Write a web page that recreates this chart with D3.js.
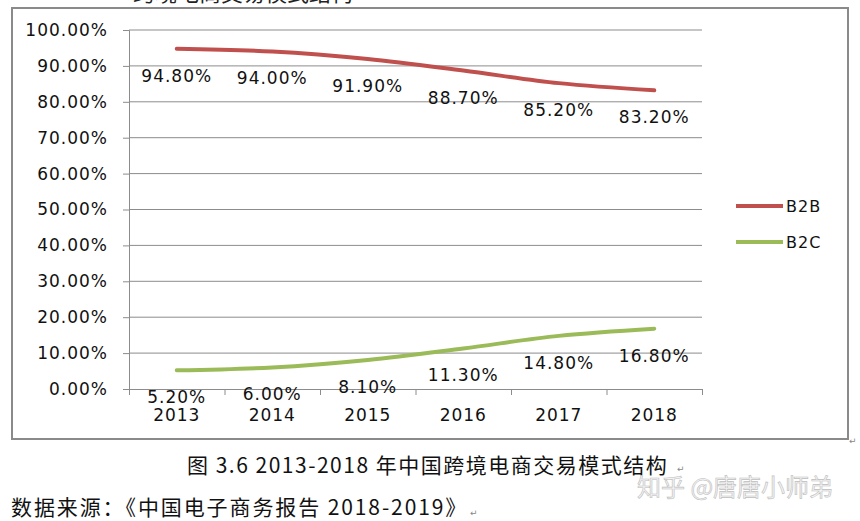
<!DOCTYPE html>
<html>
<head>
<meta charset="utf-8">
<script src="https://cdn.jsdelivr.net/npm/d3@7"></script>
<style>
  body { margin: 0; background: #fff; }
  svg { display: block; }
</style>
</head>
<body>
<div id="chart"></div>
<script>
"use strict";

var years = ["2013", "2014", "2015", "2016", "2017", "2018"];
var seriesNames = ["B2B", "B2C"];
var b2bValues = [0.948, 0.940, 0.919, 0.887, 0.852, 0.832];
var b2cValues = [0.052, 0.060, 0.081, 0.113, 0.148, 0.168];
var seriesColors = ["#c0504d", "#9bbb59"];
var yTicks = [0, 0.1, 0.2, 0.3, 0.4, 0.5, 0.6, 0.7, 0.8, 0.9, 1.0];

var series = [
    { name: seriesNames[0], values: b2bValues, color: seriesColors[0] },
    { name: seriesNames[1], values: b2cValues, color: seriesColors[1] }
];

var width = 860, height = 521;
var margin = { top: 30, left: 129, right: 158, bottom: 132 };
var plotW = width - margin.left - margin.right;
var plotH = height - margin.top - margin.bottom;
var font = "'DejaVu Sans', Verdana, sans-serif";
var cjk = "'Noto Sans CJK SC', sans-serif";

var svg = d3.select("#chart").append("svg")
    .attr("width", width)
    .attr("height", height);

svg.append("rect").attr("width", width).attr("height", height).attr("fill", "#fff");

// title cut off at the top of the picture
svg.append("text")
    .attr("x", 133).attr("y", 1)
    .style("font-family", cjk).style("font-size", "22px")
    .style("fill", "#222")
    .text("跨境电商交易模式结构");

// outer chart border
svg.append("rect")
    .attr("x", 12).attr("y", 8)
    .attr("width", 836).attr("height", 431)
    .attr("fill", "none")
    .attr("stroke", "#8a8a8a")
    .attr("stroke-width", 2);

var g = svg.append("g")
    .attr("transform", "translate(" + margin.left + "," + margin.top + ")");

var x = d3.scaleBand().domain(years).range([0, plotW]).padding(0);
var xEdge = d3.scaleLinear().domain([0, years.length]).range([0, plotW]);
var y = d3.scaleLinear().domain([0, 1]).range([plotH, 0]);

// gridlines
g.append("g").selectAll("line")
    .data(yTicks.slice(1))
    .enter().append("line")
    .attr("x1", 0).attr("x2", plotW)
    .attr("y1", function (d) { return y(d); })
    .attr("y2", function (d) { return y(d); })
    .attr("stroke", "#8c8c8c").attr("stroke-width", 1);

// y axis
var yAxis = g.append("g")
    .call(d3.axisLeft(y).tickValues(yTicks).tickFormat(d3.format(".2%")).tickSize(6).tickPadding(15));
yAxis.select(".domain").attr("stroke", "#8c8c8c");
yAxis.selectAll(".tick line").attr("stroke", "#8c8c8c");
yAxis.selectAll("text")
    .style("font-family", font).style("font-size", "17px")
    .style("letter-spacing", "1px")
    .attr("fill", "#111");

// x axis ticks at category edges
var xTicks = g.append("g")
    .attr("transform", "translate(0," + plotH + ")")
    .call(d3.axisBottom(xEdge).ticks(years.length).tickFormat("").tickSize(6).tickSizeOuter(6));
xTicks.select(".domain").attr("stroke", "#8c8c8c");
xTicks.selectAll(".tick line").attr("stroke", "#8c8c8c");

// x labels
var xLabels = g.append("g")
    .attr("transform", "translate(0," + plotH + ")")
    .call(d3.axisBottom(x).tickSize(0).tickPadding(20));
xLabels.select(".domain").remove();
xLabels.selectAll("text")
    .style("font-family", font).style("font-size", "17px")
    .style("letter-spacing", "1px")
    .attr("fill", "#111");

var line = d3.line()
    .x(function (d, i) { return x(years[i]) + x.bandwidth() / 2; })
    .y(function (d) { return y(d); })
    .curve(d3.curveCatmullRom.alpha(0.5));

series.forEach(function (s) {
    g.append("path")
        .datum(s.values)
        .attr("d", line)
        .attr("fill", "none")
        .attr("stroke", s.color)
        .attr("stroke-width", 4)
        .attr("stroke-linecap", "round");

    g.append("g").selectAll("text")
        .data(s.values)
        .enter().append("text")
        .attr("x", function (d, i) { return x(years[i]) + x.bandwidth() / 2; })
        .attr("y", function (d) { return y(d) + 27; })
        .attr("dy", "0.35em")
        .attr("text-anchor", "middle")
        .style("font-family", font).style("font-size", "17px")
        .style("letter-spacing", "1px")
        .attr("fill", "#111")
        .text(function (d) { return d3.format(".2%")(d); });
});

// legend
var legend = svg.append("g").attr("transform", "translate(736,206)");
var item = legend.selectAll("g")
    .data(series)
    .enter().append("g")
    .attr("transform", function (d, i) { return "translate(0," + i * 36 + ")"; });
item.append("line")
    .attr("x1", 0).attr("x2", 47)
    .attr("stroke", function (d) { return d.color; })
    .attr("stroke-width", 4);
item.append("text")
    .attr("x", 50).attr("dy", "0.36em")
    .style("font-family", font).style("font-size", "16px")
    .style("letter-spacing", "1px")
    .attr("fill", "#111")
    .text(function (d) { return d.name; });

// small paragraph marks
svg.append("text")
    .attr("x", 849).attr("y", 444)
    .style("font-family", font).style("font-size", "9px")
    .attr("fill", "#888").text("↵");

// caption
svg.append("text")
    .attr("x", 187).attr("y", 473)
    .style("font-family", cjk).style("font-size", "21px")
    .style("letter-spacing", "1.5px")
    .attr("fill", "#111")
    .text("图 3.6 2013-2018 年中国跨境电商交易模式结构");
svg.append("text")
    .attr("x", 677).attr("y", 472)
    .style("font-family", font).style("font-size", "9px")
    .attr("fill", "#888").text("↵");

// source
svg.append("text")
    .attr("x", 11).attr("y", 515)
    .style("font-family", cjk).style("font-size", "21px")
    .style("letter-spacing", "1.9px")
    .attr("fill", "#111")
    .text("数据来源：《中国电子商务报告 2018-2019》");
svg.append("text")
    .attr("x", 470).attr("y", 516)
    .style("font-family", font).style("font-size", "9px")
    .attr("fill", "#888").text("↵");

// watermark
svg.append("text")
    .attr("x", 637).attr("y", 496)
    .style("font-family", cjk).style("font-size", "24px")
    .attr("fill", "#f4f4f4")
    .attr("stroke", "#bdbdbd").attr("stroke-width", 0.6)
    .text("知乎 @唐唐小师弟");
</script>
</body>
</html>
